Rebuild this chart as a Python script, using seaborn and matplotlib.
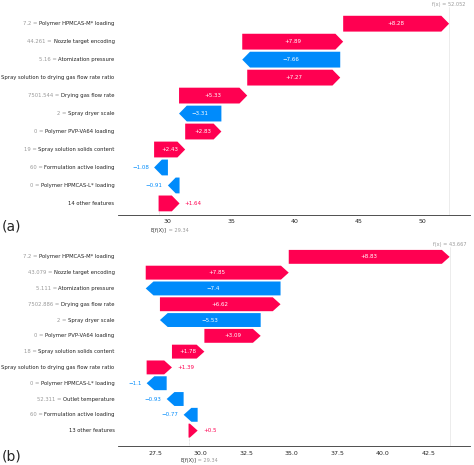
import matplotlib
matplotlib.use("Agg")
import matplotlib.pyplot as plt
import seaborn as sns

sns.set_style("white")
plt.rcParams['font.family'] = ['DejaVu Sans']

# panel (a), top row first
feat_a = ["Polymer HPMCAS-M* loading", "Nozzle target encoding", "Atomization pressure",
          "Spray solution to drying gas flow rate ratio", "Drying gas flow rate",
          "Spray dryer scale", "Polymer PVP-VA64 loading", "Spray solution solids content",
          "Formulation active loading", "Polymer HPMCAS-L* loading", "14 other features"]
vals_a = ["7.2", "44.261", "5.16", "0.181", "7501.544", "2", "0", "19", "60", "0", ""]
shap_a = [8.28, 7.89, -7.66, 7.27, 5.33, -3.31, 2.83, 2.43, -1.08, -0.91, 1.64]
base_a, fx_a = 29.34, 52.052

# panel (b)
feat_b = ["Polymer HPMCAS-M* loading", "Nozzle target encoding", "Atomization pressure",
          "Drying gas flow rate", "Spray dryer scale", "Polymer PVP-VA64 loading",
          "Spray solution solids content", "Spray solution to drying gas flow rate ratio",
          "Polymer HPMCAS-L* loading", "Outlet temperature", "Formulation active loading",
          "13 other features"]
vals_b = ["7.2", "43.079", "5.111", "7502.886", "2", "0", "18", "0.11", "0", "52.311", "60", ""]
shap_b = [8.83, 7.85, -7.4, 6.62, -5.53, 3.09, 1.78, 1.39, -1.1, -0.93, -0.77, 0.5]
base_b, fx_b = 29.34, 43.667

RED, BLUE = "#ff0051", "#008bfb"


def waterfall(fig, ax, feats, vals, shaps, base, fx, xlim, ticks, ticklabels, ylim):
    n = len(feats)
    ax.set_xlim(*xlim)
    ax.set_ylim(*ylim)
    span = xlim[1] - xlim[0]
    head = span * 0.022
    h = 0.44
    pos = base
    ypos = list(range(n - 1, -1, -1))
    # bottom row first
    for i in range(n - 1, -1, -1):
        y = ypos[i]
        s = shaps[i]
        start, end = pos, pos + s
        pos = end
        c = RED if s > 0 else BLUE
        sign = 1 if s > 0 else -1
        hl = min(head, abs(s))
        body_end = end - sign * hl
        xs = [start, body_end, end, body_end, start]
        ys = [y - h, y - h, y, y + h, y + h]
        ax.fill(xs, ys, color=c, lw=0)
        lab = ("+" if s > 0 else "\u2212") + f"{abs(s):g}"
        if abs(s) / span > 0.075:
            ax.text((start + end) / 2, y, lab, color="white", fontsize=4,
                    ha="center", va="center")
        else:
            off = span * 0.015
            ax.text(end + sign * off, y, lab, color=c, fontsize=4,
                    ha="left" if s > 0 else "right", va="center")
    ax.axvline(base, color="#cccccc", lw=0.5, ls=(0, (1, 1)), ymax=0.05, zorder=0)
    ax.axvline(fx, color="#e5e5e5", lw=0.5, zorder=0)
    ax.set_xticks(ticks)
    ax.set_xticklabels(ticklabels, fontsize=4.5)
    ax.tick_params(axis="x", length=2, width=0.5, pad=1)
    ax.set_yticks([])
    for sp in ["top", "right", "left"]:
        ax.spines[sp].set_visible(False)
    ax.spines["bottom"].set_linewidth(0.6)
    ax.spines["bottom"].set_color("#333333")
    fig.canvas.draw()
    r = fig.canvas.get_renderer()
    for i, y in enumerate(ypos):
        t = ax.text(-0.01, y, feats[i], transform=ax.get_yaxis_transform(),
                    fontsize=3.8, ha="right", va="center", color="#222222")
        if vals[i]:
            bb = t.get_window_extent(r)
            x0 = ax.transAxes.inverted().transform((bb.x0, bb.y0))[0]
            ax.text(x0, y, vals[i] + " = ", transform=ax.get_yaxis_transform(),
                    fontsize=3.8, ha="right", va="center", color="#999999")
    t = ax.text(base, -0.06, "E[f(X)]", transform=ax.get_xaxis_transform(),
                fontsize=3.6, ha="center", va="top", color="#333333")
    bb = t.get_window_extent(r)
    x1 = ax.transAxes.inverted().transform((bb.x1, bb.y0))[0]
    ax.text(x1, -0.06, " = " + f"{base:g}", transform=ax.transAxes,
            fontsize=3.6, ha="left", va="top", color="#999999")
    ax.text(fx, 1.0, "f(x) = " + f"{fx:g}", transform=ax.get_xaxis_transform(),
            fontsize=3.6, ha="center", va="bottom", color="#999999")


fig = plt.figure(figsize=(4.74, 4.65), dpi=100)
ax_a = fig.add_axes([0.249, 0.537, 0.743, 0.448])
ax_b = fig.add_axes([0.249, 0.04, 0.743, 0.428])

waterfall(fig, ax_a, feat_a, vals_a, shap_a, base_a, fx_a, (26.17, 53.7),
          [30, 35, 40, 45, 50], ["30", "35", "40", "45", "50"], (-0.66, 10.93))
waterfall(fig, ax_b, feat_b, vals_b, shap_b, base_b, fx_b, (25.47, 44.8),
          [27.5, 30, 32.5, 35, 37.5, 40, 42.5],
          ["27.5", "30.0", "32.5", "35.0", "37.5", "40.0", "42.5"], (-1.0, 11.6))

fig.text(0.003, 0.497, "(a)", fontsize=10, va="bottom")
fig.text(0.003, 0.003, "(b)", fontsize=10, va="bottom")

fig.savefig("out.png", dpi=100)
